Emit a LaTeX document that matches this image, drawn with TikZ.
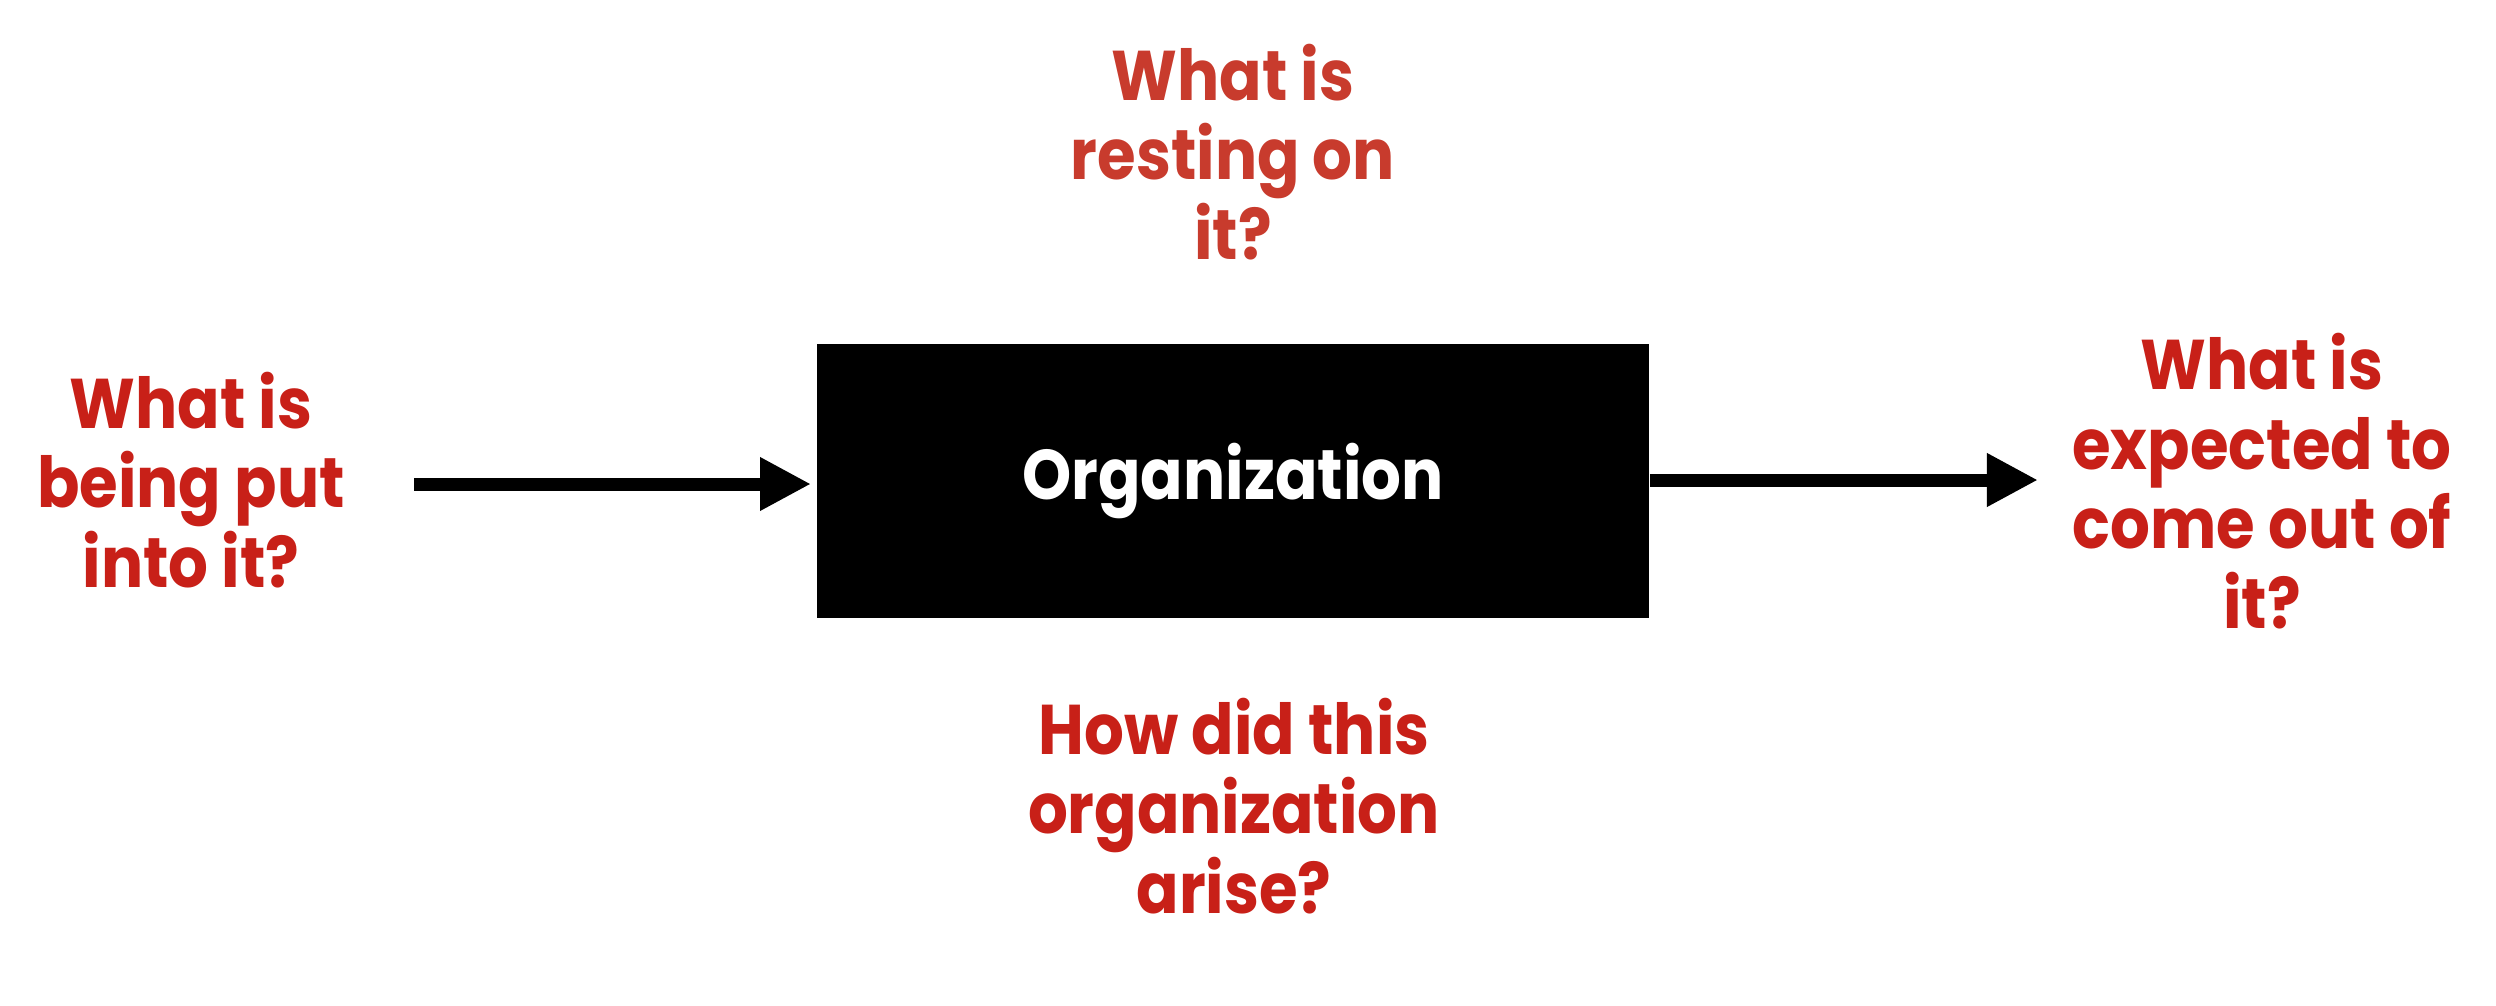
\documentclass[tikz,border=0pt]{standalone}
\usepackage{fontspec}
\setmainfont{Poppins}[FakeStretch=0.89]
\usepackage{xcolor}
\usetikzlibrary{arrows.meta,positioning,calc}
\definecolor{qred}{HTML}{C82018}
\definecolor{qredlight}{HTML}{C83B2D}

\begin{document}
\begin{tikzpicture}[x=0.01cm,y=-0.01cm,
    question/.style={align=center, inner sep=0pt, text=qred,
        font=\fontsize{20}{22.6}\selectfont\bfseries},
    flow/.style={-{Triangle[length=0.51cm,width=0.50cm]}, line width=0.13cm}]
    \useasboundingbox (0,0) rectangle (2496,1006);

    % Central block
    \node[fill=black, text=white, minimum width=8.32cm, minimum height=2.74cm,
        font=\fontsize{20}{22.6}\selectfont\bfseries] (org) at (1233,481) {Organization};

    % Questions around the block
    \node[question, text=qredlight] (rest) at (1233,152) {What is\\resting on\\it?};
    \node[question] (input) at (191,480) {What is\\being put\\into it?};
    \node[question] (output) at (2262,481) {What is\\expected to\\come out of\\it?};
    \node[question] (origin) at (1234,806) {How did this\\organization\\arise?};

    % Flow in and out
    \coordinate (in) at (414,484);
    \coordinate (out) at (2038,480);
    \draw[flow, shorten >=0.05cm] (in) -- (in -| org.west);
    \draw[flow] (out -| org.east) -- (out);
\end{tikzpicture}
\end{document}
